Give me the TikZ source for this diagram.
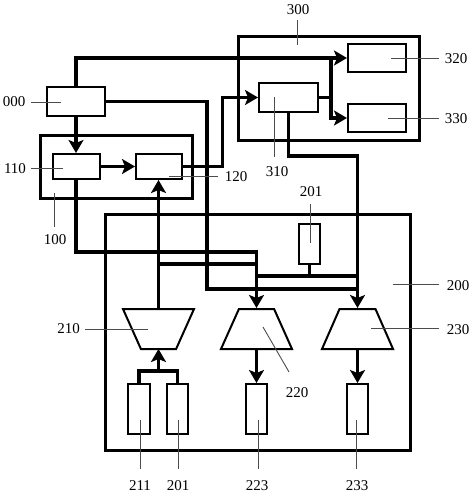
\documentclass[tikz,border=0pt]{standalone}
\usepackage{fontspec}
\setmainfont{Liberation Serif}
\usetikzlibrary{arrows.meta,shapes.geometric}
\begin{document}
\begin{tikzpicture}[x=1pt,y=-1pt,
  box/.style={draw,line width=2pt,rectangle,inner sep=0pt},
  grp/.style={draw,line width=2.6pt,rectangle,inner sep=0pt},
  trap/.style={draw,line width=2pt,trapezium,trapezium stretches=true,inner sep=1pt,minimum width=71pt,minimum height=40pt},
  conn/.style={line width=3.5pt},
  arr/.style={conn,-{Stealth[length=13pt,width=15pt,inset=3pt]}},
  lead/.style={line width=0.9pt,draw=black!70},
  lab/.style={font=\fontsize{15}{17}\selectfont,inner sep=0pt}]
\useasboundingbox (0,0) rectangle (474,494);
% groups
\node[grp,minimum width=152pt,minimum height=63pt] (g100) at (116.5,167) {};
\node[grp,minimum width=181pt,minimum height=104pt] (g300) at (329,88.5) {};
\node[grp,minimum width=305pt,minimum height=236pt] (g200) at (258,332.5) {};
% boxes
\node[box,minimum width=58pt,minimum height=29pt] (b000) at (76,101.5) {};
\node[box,minimum width=47pt,minimum height=25pt] (b110) at (76,166.5) {};
\node[box,minimum width=46pt,minimum height=25pt] (b120) at (159,166.5) {};
\node[box,minimum width=59pt,minimum height=29pt] (b310) at (288.5,97.5) {};
\node[box,minimum width=58pt,minimum height=28pt] (b320) at (377,58) {};
\node[box,minimum width=58pt,minimum height=28pt] (b330) at (377,118) {};
\node[box,minimum width=21pt,minimum height=40pt] (b201t) at (309.5,244) {};
\node[box,minimum width=22pt,minimum height=50pt] (b211) at (139,409) {};
\node[box,minimum width=21pt,minimum height=50pt] (b201b) at (177.5,409) {};
\node[box,minimum width=21pt,minimum height=50pt] (b223) at (256.5,409) {};
\node[box,minimum width=21pt,minimum height=50pt] (b233) at (357.5,409) {};
% trapezia
\node[trap,trapezium left angle=63,trapezium right angle=63,shape border rotate=180] (t210) at (158.5,329) {};
\node[trap,trapezium left angle=63,trapezium right angle=63] (t220) at (256.5,329) {};
\node[trap,trapezium left angle=64,trapezium right angle=64] (t230) at (357.5,329) {};
\coordinate (t210top) at ([yshift=20pt]t210.center);
\coordinate (t210bot) at ([yshift=-20pt]t210.center);
% junction coordinates
\coordinate (jx) at (331,58);
\coordinate (k222) at (222.5,0);
\coordinate (k207) at (207,289);
\coordinate (c289) at (357.5,289);
\coordinate (c156) at (357.5,156);
\coordinate (c252) at (256.5,252);
\coordinate (c264) at (256.5,264);
\coordinate (c276a) at (256.5,276);
\coordinate (c276b) at (357.5,276);
\coordinate (fk) at (158.5,371);
% connectors
\draw[arr] (b000.north) |- (b320.west);
\draw[arr] (jx) |- (b330.west);
\draw[conn] (b310.east) -- (b310.east -| jx);
\draw[arr] (b000.south) -- (b110.north);
\draw[arr] (b110.east) -- (b120.west);
\draw[arr] (b120.east) -- (b120.east -| k222) |- (b310.west);
\draw[conn] (b000.east) -| (k207) -- (c289);
\draw[arr] (b310.south) |- (c156) -- (t230.north);
\draw[arr] (b110.south) |- (c252) -- (t220.north);
\draw[arr] (t210top) -- (t210top |- b120.south);
\draw[conn] (t210top |- c264) -- (c264);
\draw[conn] (b201t.south) -- (b201t.south |- c276a);
\draw[conn] (c276a) -- (c276b);
\draw[conn] (b211.north) |- (fk) -| (b201b.north);
\draw[arr] (fk) -- (t210bot);
\draw[arr] (t220.south) -- (b223.north);
\draw[arr] (t230.south) -- (b233.north);
% labels
\node[lab] (L000) at (14,102) {000};
\node[lab] (L110) at (15,169) {110};
\node[lab] (L120) at (236,177) {120};
\node[lab] (L100) at (55,240) {100};
\node[lab] (L300) at (298,10) {300};
\node[lab] (L320) at (456,59) {320};
\node[lab] (L330) at (456,119) {330};
\node[lab] (L310) at (277,172) {310};
\node[lab] (L201t) at (311,192) {201};
\node[lab] (L200) at (458,286) {200};
\node[lab] (L230) at (458,330) {230};
\node[lab] (L210) at (68.5,329) {210};
\node[lab] (L220) at (297,393) {220};
\node[lab] (L211) at (140,486) {211};
\node[lab] (L201b) at (178,486) {201};
\node[lab] (L223) at (257,486) {223};
\node[lab] (L233) at (357,486) {233};
% leaders
\draw[lead] (31,102) -- (61,102);
\draw[lead] (31,168) -- (63,168);
\draw[lead] (169,176) -- (218,176);
\draw[lead] (54,193) -- (54,227);
\draw[lead] (297,20) -- (297,45);
\draw[lead] (391,58) -- (439,58);
\draw[lead] (388,118) -- (439,118);
\draw[lead] (274,97) -- (274,157);
\draw[lead] (310,204) -- (310,243);
\draw[lead] (393,284) -- (439,284);
\draw[lead] (371,328) -- (439,328);
\draw[lead] (85,329) -- (148,329);
\draw[lead] (263,327) -- (289,372);
\draw[lead] (140,420) -- (140,469);
\draw[lead] (178,420) -- (178,469);
\draw[lead] (258,420) -- (258,469);
\draw[lead] (356,420) -- (356,469);
\end{tikzpicture}
\end{document}
